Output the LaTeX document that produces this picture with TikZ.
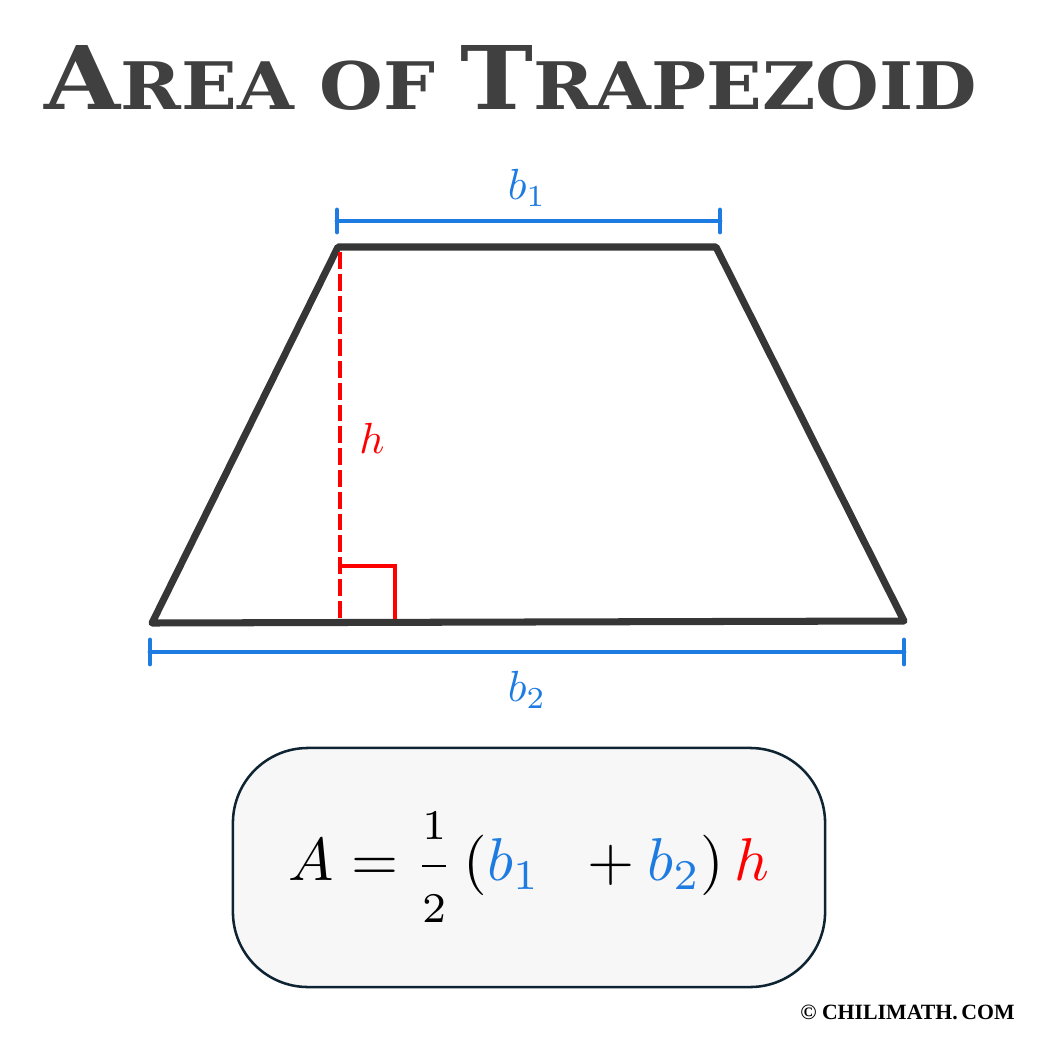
\documentclass[tikz,border=0pt]{standalone}
\usepackage{amsmath}
\usepackage{fontspec}
\usepackage{graphicx}
\newfontfamily\titlefont{DejaVu Serif}
\newfontfamily\copyfont{Liberation Serif}
\definecolor{trapgray}{HTML}{363636}
\definecolor{titlegray}{HTML}{404040}
\definecolor{dimblue}{HTML}{1E7BE1}
\definecolor{boxline}{HTML}{0E2433}
\definecolor{boxfill}{HTML}{F7F7F7}
\tikzset{
  trapline/.style={draw=trapgray, line width=5pt, line join=round, line cap=round},
  dimline/.style={draw=dimblue, line width=3.5pt, line cap=round},
  heightline/.style={draw=red, line width=2.4pt, dash pattern=on 12pt off 3.5pt},
  rightangle/.style={draw=red, line width=2.4pt, line join=miter},
  dimlabel/.style={text=dimblue},
  formulabox/.style={draw=boxline, fill=boxfill, line width=1.8pt, rounded corners=1.875cm,
    minimum width=14.8cm, minimum height=5.975cm, inner sep=0pt}
}
\begin{document}
\begin{tikzpicture}[x=0.025cm, y=-0.025cm]
\useasboundingbox (0,0) rectangle (1056,1056);
% title
\node[text=titlegray, inner sep=0pt] (title) at (511,78)
  {\resizebox{23.3cm}{1.6cm}{\titlefont\bfseries {\fontsize{63}{63}\selectfont A}{\fontsize{47}{47}\selectfont REA OF }{\fontsize{63}{63}\selectfont T}{\fontsize{47}{47}\selectfont RAPEZOID}}};
% trapezoid
\coordinate (tl) at (338,247);
\coordinate (tr) at (716,247);
\coordinate (br) at (904,621);
\coordinate (bl) at (152,623);
\path[trapline] (tl) -- (tr) -- (br) -- (bl) -- cycle;
% height
\coordinate (htop) at (340,252);
\coordinate (hfoot) at (340,619);
\path[heightline] (htop) -- (hfoot);
\coordinate (ra1) at (340,566);
\coordinate (ra2) at (395,566);
\coordinate (ra3) at (395,619);
\path[rightangle] (ra1) -- (ra2) -- (ra3);
\node[text=red] (hlab) at (372,438) {\scalebox{3.1}{$h$}};
% b1
\coordinate (b1l) at (337,221);
\coordinate (b1r) at (720,221);
\path[dimline] (b1l) -- (b1r);
\path[dimline] ([yshift=-11*0.025cm]b1l) -- ([yshift=11*0.025cm]b1l);
\path[dimline] ([yshift=-11*0.025cm]b1r) -- ([yshift=11*0.025cm]b1r);
\node[dimlabel] (b1lab) at (527,188) {\scalebox{3.1}{$b_1$}};
% b2
\coordinate (b2l) at (150,652);
\coordinate (b2r) at (904,652);
\path[dimline] (b2l) -- (b2r);
\path[dimline] ([yshift=-12*0.025cm]b2l) -- ([yshift=12*0.025cm]b2l);
\path[dimline] ([yshift=-12*0.025cm]b2r) -- ([yshift=12*0.025cm]b2r);
\node[dimlabel] (b2lab) at (527,690) {\scalebox{3.1}{$b_2$}};
% formula
\node[formulabox] (formula) at (529,867.5)
  {\scalebox{4.3}{$A=\dfrac{\scriptstyle 1}{\scriptstyle 2}\,(\textcolor{dimblue}{b_1}\;\;+\textcolor{dimblue}{b_2})\,\textcolor{red}{h}$}};
% copyright
\node[anchor=east, inner sep=0pt, font=\copyfont\bfseries\fontsize{15.5}{18}\selectfont] (copy) at (1015,1012) {\textcopyright\ CHILIMATH.\,COM};
\end{tikzpicture}
\end{document}
